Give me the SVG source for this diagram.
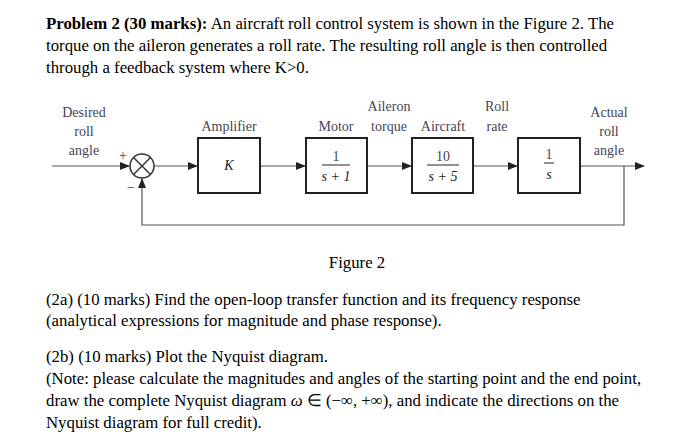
<svg xmlns="http://www.w3.org/2000/svg" width="700" height="441" viewBox="0 0 700 441">
<style>
.t{font-family:"Liberation Serif",serif;font-size:16.8px;fill:#000}
.l{font-family:"Liberation Serif",serif;font-size:14px;fill:#445;text-anchor:middle}
.m{font-family:"Liberation Serif",serif;font-size:14px;fill:#222;text-anchor:middle;font-style:italic}
.b{fill:#fff;stroke:#222;stroke-width:2}
.w{stroke:#555;stroke-width:1.2;fill:none}
</style>
<defs><marker id="a" markerWidth="10" markerHeight="8" refX="9" refY="4" orient="auto" markerUnits="userSpaceOnUse"><path d="M0,0L10,4L0,8z" fill="#222"/></marker></defs>
<rect width="700" height="441" fill="#fff"/>
<text class="t" x="46" y="29"><tspan font-weight="bold">Problem 2 (30 marks):</tspan> An aircraft roll control system is shown in the Figure 2. The</text>
<text class="t" x="46" y="51">torque on the aileron generates a roll rate. The resulting roll angle is then controlled</text>
<text class="t" x="46" y="73">through a feedback system where K&gt;0.</text>
<g id="connectors">
<path class="w" d="M52,166H129" marker-end="url(#a)"/>
<path class="w" d="M154,166H197" marker-end="url(#a)"/>
<path class="w" d="M260,166H305" marker-end="url(#a)"/>
<path class="w" d="M367,166H411" marker-end="url(#a)"/>
<path class="w" d="M473,166H517" marker-end="url(#a)"/>
<path class="w" d="M580,166H644" marker-end="url(#a)"/>
<path class="w" d="M624,166V225H142V179" marker-end="url(#a)"/>
</g>
<g id="sum"><circle cx="142" cy="166" r="12" fill="#fff" stroke="#333" stroke-width="1.5"/><path d="M133.5,157.5L150.5,174.5M150.5,157.5L133.5,174.5" stroke="#333" stroke-width="1.5"/>
<text class="l" x="123" y="160">+</text><text class="l" x="131" y="192">−</text></g>
<g id="input"><text class="l" x="84" y="117">Desired</text><text class="l" x="84" y="136">roll</text><text class="l" x="84" y="155">angle</text></g>
<g id="amp"><rect class="b" x="198" y="138" width="62" height="55"/><text class="l" x="229" y="131" fill="#222">Amplifier</text><text class="m" x="229" y="170">K</text></g>
<g id="motor"><rect class="b" x="306" y="138" width="61" height="55"/><text class="l" x="336" y="131" fill="#222">Motor</text>
<text class="l" x="336" y="161" fill="#222">1</text><path d="M322,165H350" stroke="#222"/><text class="m" x="336" y="181">s + 1</text></g>
<g id="aileron"><text class="l" x="389" y="111">Aileron</text><text class="l" x="389" y="131">torque</text></g>
<g id="aircraft"><rect class="b" x="412" y="138" width="61" height="55"/><text class="l" x="443" y="131" fill="#222">Aircraft</text>
<text class="l" x="443" y="161" fill="#222">10</text><path d="M427,165H459" stroke="#222"/><text class="m" x="443" y="181">s + 5</text></g>
<g id="rollrate"><text class="l" x="497" y="111">Roll</text><text class="l" x="497" y="131">rate</text></g>
<g id="integ"><rect class="b" x="518" y="138" width="62" height="55"/>
<text class="l" x="549" y="159" fill="#222">1</text><path d="M544,163H554" stroke="#222"/><text class="m" x="549" y="179">s</text></g>
<g id="output"><text class="l" x="609" y="117">Actual</text><text class="l" x="609" y="136">roll</text><text class="l" x="609" y="155">angle</text></g>
<text class="t" x="357" y="268" text-anchor="middle">Figure 2</text>
<text class="t" x="46" y="305">(2a) (10 marks) Find the open-loop transfer function and its frequency response</text>
<text class="t" x="46" y="326">(analytical expressions for magnitude and phase response).</text>
<text class="t" x="46" y="362">(2b) (10 marks) Plot the Nyquist diagram.</text>
<text class="t" x="46" y="384">(Note: please calculate the magnitudes and angles of the starting point and the end point,</text>
<text class="t" x="46" y="406">draw the complete Nyquist diagram <tspan font-style="italic">ω</tspan> ∈ (−∞, +∞), and indicate the directions on the</text>
<text class="t" x="46" y="428">Nyquist diagram for full credit).</text>
</svg>
